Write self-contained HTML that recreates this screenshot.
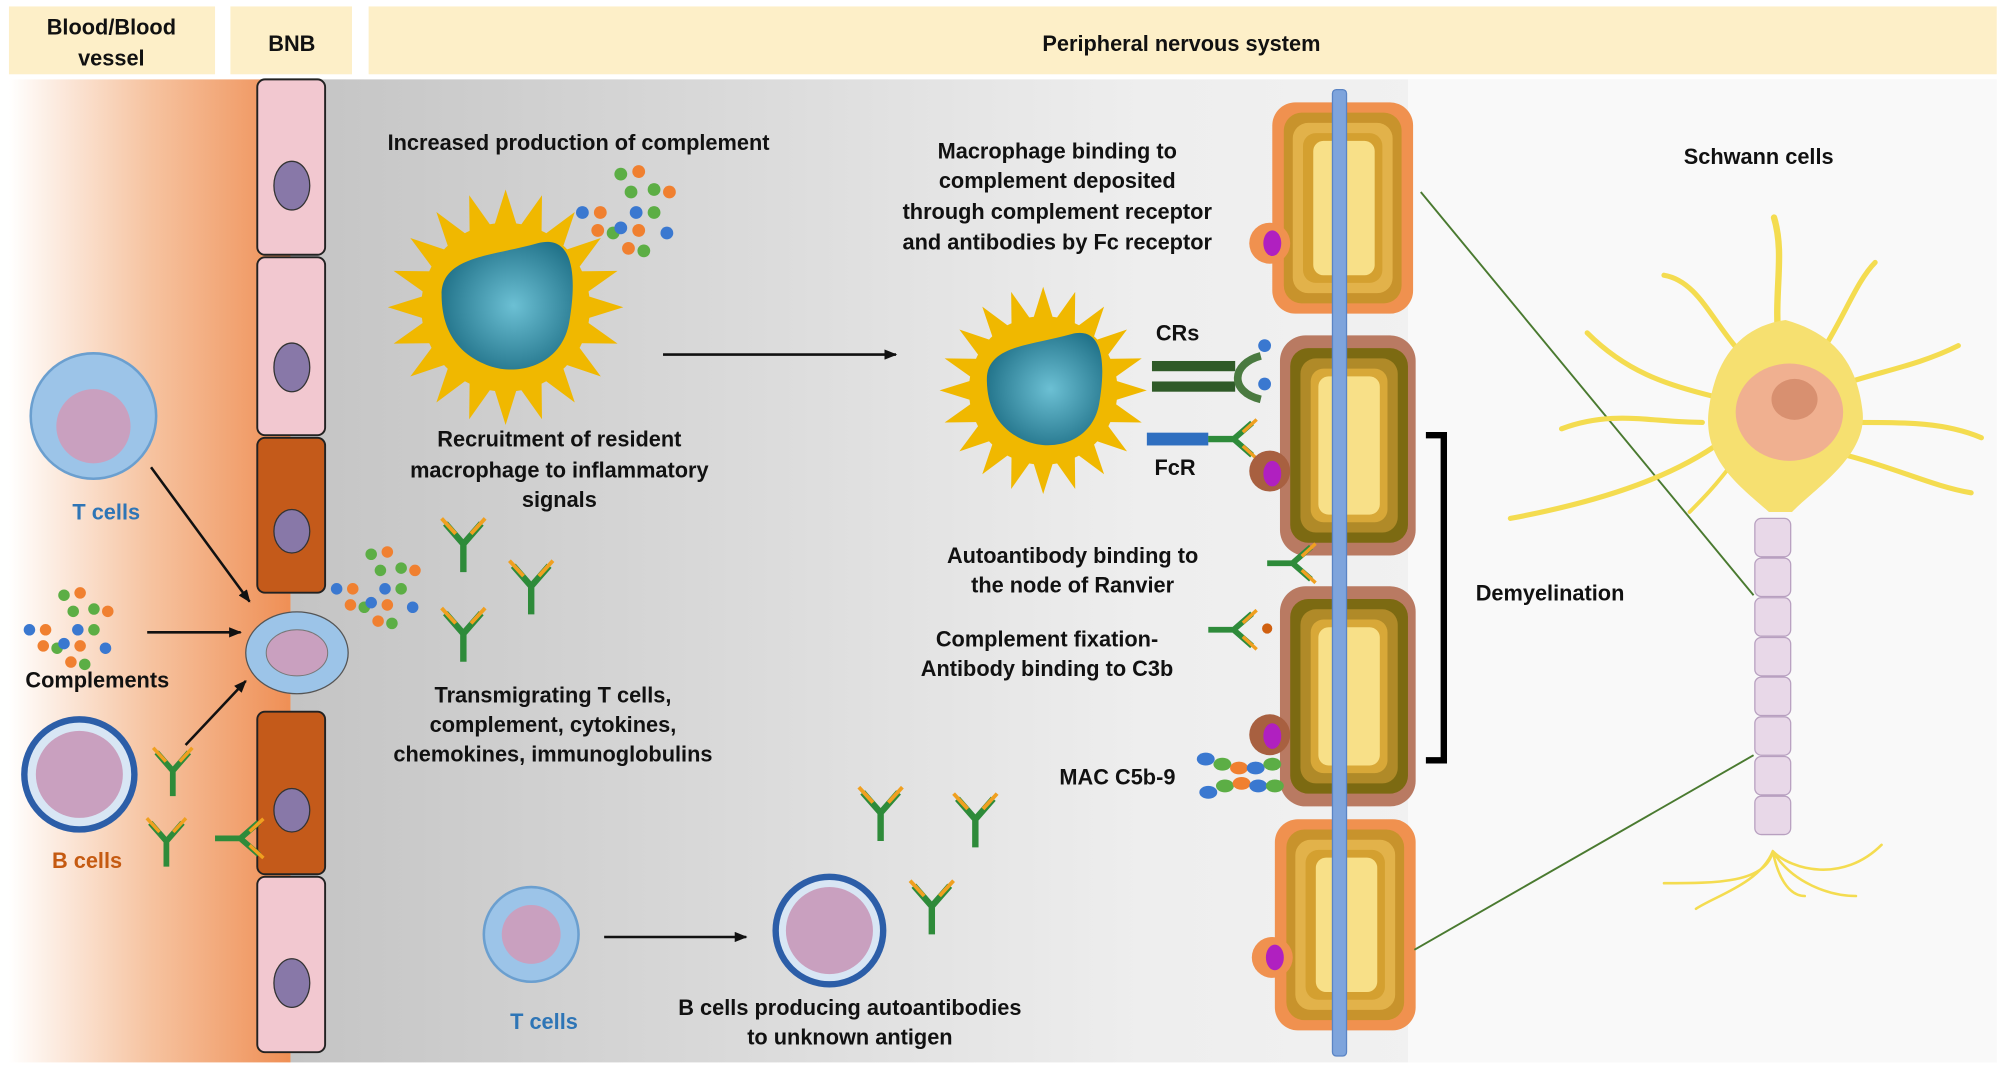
<!DOCTYPE html>
<html><head><meta charset="utf-8"><style>
html,body{margin:0;padding:0;background:#fff;}
svg{display:block;}
text{font-family:"Liberation Sans",sans-serif;font-weight:bold;fill:#111;}
</style></head><body>
<svg width="2007" height="1065" viewBox="0 0 1568 832" xmlns="http://www.w3.org/2000/svg">
<defs>
<linearGradient id="blood" x1="0" x2="1" y1="0" y2="0">
<stop offset="0" stop-color="#fff"/><stop offset="0.5" stop-color="#f6c3a0"/><stop offset="1" stop-color="#ef8f55"/></linearGradient>
<linearGradient id="pns" x1="0" x2="1" y1="0" y2="0">
<stop offset="0" stop-color="#c4c4c4"/><stop offset="0.5" stop-color="#eeeeee"/><stop offset="1" stop-color="#f7f7f7"/></linearGradient>
<radialGradient id="nuc" cx="0.55" cy="0.5" r="0.6"><stop offset="0" stop-color="#6cc0d4"/><stop offset="1" stop-color="#1e6f86"/></radialGradient>
<g id="ab">
<path d="M0,0 V-22 L-14,-38 M0,-22 L14,-38" stroke="#2e8b3a" stroke-width="5" fill="none"/>
<path d="M-6,-30 L-17,-42 M6,-30 L17,-42" stroke="#f0a020" stroke-width="3" fill="none"/>
</g>
<g id="spikes" fill="#f0b800">
<circle r="66"/>
<polygon points="-10,-60 10,-60 0,-92"/><polygon points="-10,-60 10,-60 0,-92" transform="rotate(18)"/><polygon points="-10,-60 10,-60 0,-92" transform="rotate(36)"/><polygon points="-10,-60 10,-60 0,-92" transform="rotate(54)"/><polygon points="-10,-60 10,-60 0,-92" transform="rotate(72)"/><polygon points="-10,-60 10,-60 0,-92" transform="rotate(90)"/><polygon points="-10,-60 10,-60 0,-92" transform="rotate(108)"/><polygon points="-10,-60 10,-60 0,-92" transform="rotate(126)"/><polygon points="-10,-60 10,-60 0,-92" transform="rotate(144)"/><polygon points="-10,-60 10,-60 0,-92" transform="rotate(162)"/><polygon points="-10,-60 10,-60 0,-92" transform="rotate(180)"/><polygon points="-10,-60 10,-60 0,-92" transform="rotate(198)"/><polygon points="-10,-60 10,-60 0,-92" transform="rotate(216)"/><polygon points="-10,-60 10,-60 0,-92" transform="rotate(234)"/><polygon points="-10,-60 10,-60 0,-92" transform="rotate(252)"/><polygon points="-10,-60 10,-60 0,-92" transform="rotate(270)"/><polygon points="-10,-60 10,-60 0,-92" transform="rotate(288)"/><polygon points="-10,-60 10,-60 0,-92" transform="rotate(306)"/><polygon points="-10,-60 10,-60 0,-92" transform="rotate(324)"/><polygon points="-10,-60 10,-60 0,-92" transform="rotate(342)"/>
<path d="M-50,-10 C-50,-40 -10,-40 25,-50 C55,-58 55,-20 50,10 C45,45 10,55 -15,45 C-40,35 -50,15 -50,-10Z" fill="url(#nuc)"/>
</g>
<g id="dots">
<circle cx="0" cy="0" r="5" fill="#5cae45"/><circle cx="14" cy="-2" r="5" fill="#f08030"/><circle cx="8" cy="14" r="5" fill="#5cae45"/><circle cx="26" cy="12" r="5" fill="#5cae45"/><circle cx="38" cy="14" r="5" fill="#f08030"/>
<circle cx="-30" cy="30" r="5" fill="#3a78d0"/><circle cx="-16" cy="30" r="5" fill="#f08030"/><circle cx="12" cy="30" r="5" fill="#3a78d0"/><circle cx="26" cy="30" r="5" fill="#5cae45"/>
<circle cx="-18" cy="44" r="5" fill="#f08030"/><circle cx="-6" cy="46" r="5" fill="#5cae45"/><circle cx="0" cy="42" r="5" fill="#3a78d0"/><circle cx="14" cy="44" r="5" fill="#f08030"/><circle cx="36" cy="46" r="5" fill="#3a78d0"/>
<circle cx="6" cy="58" r="5" fill="#f08030"/><circle cx="18" cy="60" r="5" fill="#5cae45"/>
</g>
<g id="seg">
<rect x="-54" y="0" width="110" height="165" rx="18" fill="#f0914f"/>
<rect x="-45" y="8" width="92" height="149" rx="14" fill="#c8932c"/>
<rect x="-38" y="16" width="78" height="133" rx="12" fill="#e2b24a"/>
<rect x="-30" y="24" width="62" height="117" rx="10" fill="#d4a030"/>
<rect x="-22" y="30" width="48" height="105" rx="8" fill="#f8e088"/>
</g>
<g id="dseg">
<rect x="-50" y="0" width="106" height="172" rx="20" fill="#b97a62"/>
<rect x="-42" y="10" width="92" height="152" rx="14" fill="#7c6a12"/>
<rect x="-34" y="18" width="76" height="136" rx="12" fill="#b08a28"/>
<rect x="-26" y="26" width="60" height="120" rx="10" fill="#d8a838"/>
<rect x="-20" y="32" width="48" height="108" rx="8" fill="#f8e088"/>
</g>
<marker id="ar" markerWidth="10" markerHeight="8" refX="9" refY="4" orient="auto" markerUnits="userSpaceOnUse"><path d="M0,0 L10,4 L0,8Z" fill="#111"/></marker>
</defs>

<!-- headers -->
<rect x="7" y="5" width="161" height="53" fill="#fdefc8"/>
<rect x="180" y="5" width="95" height="53" fill="#fdefc8"/>
<rect x="288" y="5" width="1272" height="53" fill="#fdefc8"/>
<text x="87" y="27" font-size="17" text-anchor="middle">Blood/Blood</text>
<text x="87" y="51" font-size="17" text-anchor="middle">vessel</text>
<text x="228" y="40" font-size="17" text-anchor="middle">BNB</text>
<text x="923" y="40" font-size="17" text-anchor="middle">Peripheral nervous system</text>

<!-- backgrounds -->
<rect x="7" y="62" width="220" height="768" fill="url(#blood)"/>
<rect x="227" y="62" width="1333" height="768" fill="url(#pns)"/>
<rect x="1100" y="62" width="460" height="768" fill="#f9f9f9"/>

<!-- BNB cells -->
<g stroke="#222" stroke-width="1.5">
<rect x="201" y="62" width="53" height="137" rx="6" fill="#f2c8d0"/>
<rect x="201" y="201" width="53" height="139" rx="6" fill="#f2c8d0"/>
<rect x="201" y="342" width="53" height="121" rx="6" fill="#c45a1a"/>
<rect x="201" y="556" width="53" height="127" rx="6" fill="#c45a1a"/>
<rect x="201" y="685" width="53" height="137" rx="6" fill="#f2c8d0"/>
</g>
<g fill="#8878a8" stroke="#333" stroke-width="1">
<ellipse cx="228" cy="145" rx="14" ry="19"/><ellipse cx="228" cy="287" rx="14" ry="19"/><ellipse cx="228" cy="415" rx="14" ry="17"/><ellipse cx="228" cy="633" rx="14" ry="17"/><ellipse cx="228" cy="768" rx="14" ry="19"/>
</g>

<!-- left cells -->
<circle cx="73" cy="325" r="49" fill="#9cc4e8" stroke="#6b9fcf" stroke-width="2"/>
<circle cx="73" cy="333" r="29" fill="#c9a0bf"/>
<text x="83" y="406" font-size="17" text-anchor="middle" style="fill:#2e75b6">T cells</text>
<use href="#dots" transform="translate(50,465) scale(0.9)"/>
<text x="76" y="537" font-size="17" text-anchor="middle">Complements</text>
<circle cx="62" cy="605" r="43" fill="#d8e6f4" stroke="#2c5ea8" stroke-width="5"/>
<circle cx="62" cy="605" r="34" fill="#c9a0bf"/>
<text x="68" y="678" font-size="17" text-anchor="middle" style="fill:#c55a11">B cells</text>
<use href="#ab" transform="translate(135,622) scale(0.9)"/>
<use href="#ab" transform="translate(130,677) scale(0.9)"/>
<use href="#ab" transform="translate(168,655) rotate(90) scale(0.9)"/>
<ellipse cx="232" cy="510" rx="40" ry="32" fill="#9cc4e8" stroke="#555" stroke-width="1"/>
<ellipse cx="232" cy="510" rx="24" ry="18" fill="#c9a0bf" stroke="#777" stroke-width="0.8"/>
<g stroke="#111" stroke-width="2" marker-end="url(#ar)">
<line x1="118" y1="365" x2="195" y2="470"/>
<line x1="115" y1="494" x2="188" y2="494"/>
<line x1="145" y1="582" x2="192" y2="532"/>
</g>

<!-- middle -->
<text x="452" y="117" font-size="17" text-anchor="middle">Increased production of complement</text>
<use href="#dots" transform="translate(485,136)"/>
<use href="#spikes" transform="translate(395,240)"/>
<line x1="518" y1="277" x2="700" y2="277" stroke="#111" stroke-width="2" marker-end="url(#ar)"/>
<text x="437" y="349" font-size="17" text-anchor="middle">Recruitment of resident</text>
<text x="437" y="373" font-size="17" text-anchor="middle">macrophage to inflammatory</text>
<text x="437" y="396" font-size="17" text-anchor="middle">signals</text>
<use href="#dots" transform="translate(290,433) scale(0.9)"/>
<use href="#ab" transform="translate(362,447)"/>
<use href="#ab" transform="translate(415,480)"/>
<use href="#ab" transform="translate(362,517)"/>
<text x="432" y="549" font-size="17" text-anchor="middle">Transmigrating T cells,</text>
<text x="432" y="572" font-size="17" text-anchor="middle">complement, cytokines,</text>
<text x="432" y="595" font-size="17" text-anchor="middle">chemokines, immunoglobulins</text>
<circle cx="415" cy="730" r="37" fill="#9cc4e8" stroke="#6b9fcf" stroke-width="2"/>
<circle cx="415" cy="730" r="23" fill="#c9a0bf"/>
<text x="425" y="804" font-size="17" text-anchor="middle" style="fill:#2e75b6">T cells</text>
<line x1="472" y1="732" x2="583" y2="732" stroke="#111" stroke-width="2" marker-end="url(#ar)"/>
<circle cx="648" cy="727" r="42" fill="#d8e6f4" stroke="#2c5ea8" stroke-width="5"/>
<circle cx="648" cy="727" r="34" fill="#c9a0bf"/>
<use href="#ab" transform="translate(688,657)"/>
<use href="#ab" transform="translate(762,662)"/>
<use href="#ab" transform="translate(728,730)"/>
<text x="664" y="793" font-size="17" text-anchor="middle">B cells producing autoantibodies</text>
<text x="664" y="816" font-size="17" text-anchor="middle">to unknown antigen</text>

<!-- macrophage 2 -->
<text x="826" y="124" font-size="17" text-anchor="middle">Macrophage binding to</text>
<text x="826" y="147" font-size="17" text-anchor="middle">complement deposited</text>
<text x="826" y="171" font-size="17" text-anchor="middle">through complement receptor</text>
<text x="826" y="195" font-size="17" text-anchor="middle">and antibodies by Fc receptor</text>
<rect x="900" y="282" width="65" height="8" fill="#2f5a28"/>
<rect x="900" y="298" width="65" height="8" fill="#2f5a28"/>
<path d="M985,278 C962,284 960,306 985,312" stroke="#4a7a40" stroke-width="6" fill="none"/>
<circle cx="988" cy="270" r="5" fill="#3a78d0"/><circle cx="988" cy="300" r="5" fill="#3a78d0"/>
<use href="#spikes" transform="translate(815,305) scale(0.88)"/>
<rect x="896" y="338" width="48" height="10" fill="#2f6fc0"/>
<line x1="944" y1="343" x2="965" y2="343" stroke="#2e8b3a" stroke-width="5"/>
<use href="#ab" transform="translate(944,343) rotate(90) scale(0.9)"/>
<text x="920" y="266" font-size="17" text-anchor="middle">CRs</text>
<text x="918" y="371" font-size="17" text-anchor="middle">FcR</text>
<text x="838" y="440" font-size="17" text-anchor="middle">Autoantibody binding to</text>
<text x="838" y="463" font-size="17" text-anchor="middle">the node of Ranvier</text>
<text x="818" y="505" font-size="17" text-anchor="middle">Complement fixation-</text>
<text x="818" y="528" font-size="17" text-anchor="middle">Antibody binding to C3b</text>
<text x="873" y="613" font-size="17" text-anchor="middle">MAC C5b-9</text>

<!-- myelin segments -->
<use href="#seg" transform="translate(1048,80)"/>
<use href="#dseg" transform="translate(1050,262)"/>
<use href="#dseg" transform="translate(1050,458)"/>
<use href="#seg" transform="translate(1050,640)"/>
<g fill="#f0914f"><circle cx="992" cy="190" r="16"/><circle cx="994" cy="748" r="16"/></g>
<g fill="#a86040"><circle cx="992" cy="368" r="16"/><circle cx="992" cy="574" r="16"/></g>
<g fill="#b020c0"><ellipse cx="994" cy="190" rx="7" ry="10"/><ellipse cx="994" cy="370" rx="7" ry="10"/><ellipse cx="994" cy="575" rx="7" ry="10"/><ellipse cx="996" cy="748" rx="7" ry="10"/></g>
<use href="#ab" transform="translate(990,440) rotate(90) scale(0.9)"/>
<use href="#ab" transform="translate(944,492) rotate(90) scale(0.9)"/>
<circle cx="990" cy="491" r="4" fill="#d06010"/>
<g>
<ellipse cx="942" cy="593" rx="7" ry="5" fill="#3a78d0"/><ellipse cx="955" cy="597" rx="7" ry="5" fill="#5cae45"/><ellipse cx="968" cy="600" rx="7" ry="5" fill="#f08030"/><ellipse cx="981" cy="600" rx="7" ry="5" fill="#3a78d0"/><ellipse cx="994" cy="597" rx="7" ry="5" fill="#5cae45"/>
<ellipse cx="944" cy="619" rx="7" ry="5" fill="#3a78d0"/><ellipse cx="957" cy="614" rx="7" ry="5" fill="#5cae45"/><ellipse cx="970" cy="612" rx="7" ry="5" fill="#f08030"/><ellipse cx="983" cy="614" rx="7" ry="5" fill="#3a78d0"/><ellipse cx="996" cy="614" rx="7" ry="5" fill="#5cae45"/>
</g>
<rect x="1041" y="70" width="11" height="755" rx="3" fill="#7ea4dc" stroke="#5a84c4" stroke-width="1"/>

<!-- bracket -->
<path d="M1114,340 H1128 V594 H1114" stroke="#000" stroke-width="5" fill="none"/>
<text x="1211" y="469" font-size="17" text-anchor="middle">Demyelination</text>

<!-- neuron -->
<text x="1374" y="128" font-size="17" text-anchor="middle">Schwann cells</text>
<line x1="1110" y1="150" x2="1370" y2="465" stroke="#4a7a30" stroke-width="1.5"/>
<line x1="1105" y1="742" x2="1370" y2="590" stroke="#4a7a30" stroke-width="1.5"/>
<g stroke="#f4dc50" fill="none" stroke-linecap="round">
<path d="M1390,270 C1385,230 1395,200 1386,170" stroke-width="5"/>
<path d="M1370,285 C1340,260 1330,220 1300,215" stroke-width="4"/>
<path d="M1420,280 C1440,250 1450,220 1465,205" stroke-width="4"/>
<path d="M1340,310 C1300,300 1270,290 1240,260" stroke-width="4"/>
<path d="M1330,330 C1290,330 1260,320 1220,335" stroke-width="4"/>
<path d="M1345,345 C1310,370 1260,390 1180,405" stroke-width="4"/>
<path d="M1440,300 C1470,290 1500,285 1530,270" stroke-width="4"/>
<path d="M1450,330 C1490,330 1520,330 1548,342" stroke-width="4"/>
<path d="M1440,355 C1480,365 1510,380 1540,385" stroke-width="4"/>
<path d="M1355,360 C1340,380 1330,390 1320,400" stroke-width="3"/>
<path d="M1385,665 C1380,690 1340,690 1300,690 M1385,665 C1375,690 1340,700 1325,710 M1385,665 C1390,690 1400,700 1410,700 M1385,665 C1400,680 1440,690 1470,660 M1385,665 C1400,690 1430,700 1450,700" stroke-width="2"/>
</g>
<path d="M1395,250 C1430,260 1450,280 1455,320 C1460,355 1420,380 1400,400 L1382,400 C1360,380 1330,360 1335,320 C1340,280 1360,255 1395,250Z" fill="#f6e070"/>
<ellipse cx="1398" cy="322" rx="42" ry="38" fill="#f0b090"/>
<ellipse cx="1402" cy="312" rx="18" ry="16" fill="#d89070"/>
<g fill="#e8d8e8" stroke="#b8a0c0" stroke-width="1">
<rect x="1371" y="405" width="28" height="30" rx="5"/><rect x="1371" y="436" width="28" height="30" rx="5"/><rect x="1371" y="467" width="28" height="30" rx="5"/><rect x="1371" y="498" width="28" height="30" rx="5"/><rect x="1371" y="529" width="28" height="30" rx="5"/><rect x="1371" y="560" width="28" height="30" rx="5"/><rect x="1371" y="591" width="28" height="30" rx="5"/><rect x="1371" y="622" width="28" height="30" rx="5"/>
</g>
</svg>
</body></html>
